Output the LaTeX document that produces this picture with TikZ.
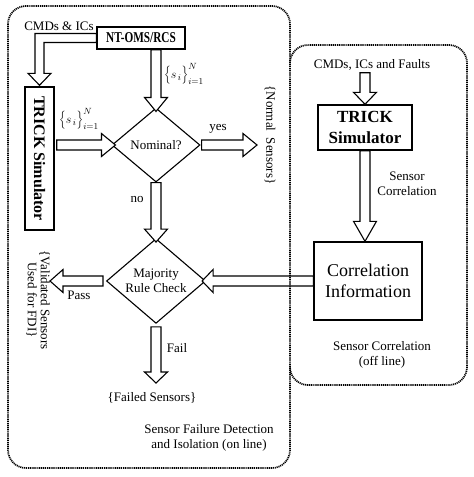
\documentclass[tikz,border=0pt]{standalone}
\usepackage{fontspec}
\setmainfont{Liberation Serif}
\newfontfamily\ntfont{Liberation Serif}[FakeStretch=0.75]
\usetikzlibrary{calc,shapes.geometric}
\def\bsw{5}
\def\bhw{11.5}
% down block arrow: [head length]{start}{tip}
\newcommand\arrD[3][14]{\draw[barr] ($(#2)+(-\bsw,0)$) -- ($(#3)+(-\bsw,-#1)$) -- ($(#3)+(-\bhw,-#1)$) -- (#3) -- ($(#3)+(\bhw,-#1)$) -- ($(#3)+(\bsw,-#1)$) -- ($(#2)+(\bsw,0)$) -- cycle;}
\newcommand\arrR[3][14]{\draw[barr] ($(#2)+(0,-\bsw)$) -- ($(#3)+(-#1,-\bsw)$) -- ($(#3)+(-#1,-\bhw)$) -- (#3) -- ($(#3)+(-#1,\bhw)$) -- ($(#3)+(-#1,\bsw)$) -- ($(#2)+(0,\bsw)$) -- cycle;}
\newcommand\arrL[3][14]{\draw[barr] ($(#2)+(0,-\bsw)$) -- ($(#3)+(#1,-\bsw)$) -- ($(#3)+(#1,-\bhw)$) -- (#3) -- ($(#3)+(#1,\bhw)$) -- ($(#3)+(#1,\bsw)$) -- ($(#2)+(0,\bsw)$) -- cycle;}
\newcommand\sset{$\Bigl\{s_{\,i}\Bigr\}_{i=1}^{N}$}
\begin{document}
\begin{tikzpicture}[x=1pt,y=-1pt,
  barr/.style={draw=black, fill=white, line width=1.1pt, line join=miter},
  box/.style={draw, line width=1.4pt, inner sep=0pt, align=center},
  dia/.style={draw, shape=diamond, line width=1.1pt, inner sep=0pt, align=center,
              font=\fontsize{13}{15}\selectfont},
  dotbox/.style={line width=1.7pt, dash pattern=on 1.1pt off 0.8pt, rounded corners=18pt},
  lab/.style={font=\fontsize{13}{15}\selectfont, inner sep=0pt, align=center}]
\useasboundingbox (0,0) rectangle (474,477);

% ---- nodes ----
\node[box, minimum width=88pt, minimum height=22pt,
      font=\ntfont\bfseries\fontsize{15}{17}\selectfont] (nt) at (141,38) {NT-OMS/RCS};
\node[box, minimum width=29pt, minimum height=143pt] (trickL) at (39.5,158.5) {};
\node[rotate=-90, inner sep=0pt, font=\bfseries\fontsize{16}{18}\selectfont] (trickLtxt) at (trickL) {TRICK Simulator};
\node[dia, minimum width=88pt, minimum height=74pt] (nom) at (156,145) {Nominal?};
\node[dia, minimum width=99pt, minimum height=84pt] (maj) at (156,281) {Majority\\Rule Check};
\node[box, minimum width=94pt, minimum height=45pt,
      font=\bfseries\fontsize{17}{21}\selectfont] (trickR) at (365,127.5) {TRICK\\Simulator};
\node[box, minimum width=108pt, minimum height=78pt,
      font=\fontsize{18}{21}\selectfont] (corr) at (368,281) {Correlation\\Information};

% ---- labels ----
\node[lab] (cmdsL) at (59,26) {CMDs \& ICs};
\node[lab] (s1) at (184,74) {\sset};
\node[lab] (s2) at (79,119) {\sset};
\node[lab] (yes) at (218,129) {yes};
\node[lab, rotate=-90] (normal) at (270,135) {\{Normal\ \ Sensors\}};
\node[lab] (no) at (137,199) {no};
\node[lab] (pass) at (79,295) {Pass};
\node[lab, rotate=-90, font=\fontsize{13}{13}\selectfont] (valid) at (38,300) {\{Validated Sensors\\Used for FDI\}};
\node[lab] (fail) at (177,348) {Fail};
\node[lab] (failed) at (152,398) {\{Failed Sensors\}};
\node[lab] (sfdi) at (209,438) {Sensor Failure Detection\\and Isolation (on line)};
\node[lab] (cmdsR) at (372,65) {CMDs, ICs and Faults};
\node[lab] (sc) at (407,184) {Sensor\\Correlation};
\node[lab] (scoff) at (382,355) {Sensor Correlation\\(off line)};

% ---- helper coordinates ----
\coordinate (lc) at (trickL.north |- nt.west);
\coordinate (a1s) at (nom.north |- nt.south);
\coordinate (a1e) at ($(nom.north)+(0,4)$);
\coordinate (a2s) at ($(trickL.east |- nom.west)+(2,0)$);
\coordinate (a2e) at ($(nom.west)+(4,0)$);
\coordinate (a3s) at ($(nom.east)+(1,0)$);
\coordinate (yesend) at (257,145);
\coordinate (a4e) at ($(maj.north)+(0,4)$);
\coordinate (a5s) at ($(maj.west)+(-3,0)$);
\coordinate (passend) at (50,281);
\coordinate (a6s) at ($(maj.south)+(0,3)$);
\coordinate (failend) at (156,383);
\coordinate (a7s) at (corr.west |- maj.east);
\coordinate (a7e) at ($(maj.east)+(-4,0)$);
\coordinate (a8s) at ($(trickR.north |- cmdsR.south)+(0,2)$);
\coordinate (a9e) at (trickR.south |- corr.north);

% ---- block arrows ----
\draw[barr] ($(nt.west)+(0,-4.5)$) -- ($(lc)+(-4.5,-4.5)$) -- ($(trickL.north)+(-4.5,-13)$)
  -- ($(trickL.north)+(-11.5,-13)$) -- ($(trickL.north)+(0,-1)$) -- ($(trickL.north)+(11.5,-13)$)
  -- ($(trickL.north)+(4.5,-13)$) -- ($(lc)+(4.5,4.5)$) -- ($(nt.west)+(0,4.5)$) -- cycle;
\arrD{a1s}{a1e}
\arrR{a2s}{a2e}
\arrR{a3s}{yesend}
\arrD[13]{nom.south}{a4e}
\arrL[13]{a5s}{passend}
\arrD[11]{a6s}{failend}
\arrL[11]{a7s}{a7e}
\arrD[12]{a8s}{trickR.north}
\arrD[20]{trickR.south}{a9e}

% ---- dotted frames ----
\draw[dotbox] (8,6) rectangle (290,468);
\draw[dotbox] (290,63) -- (290,45) -- (467,45) -- (467,385) -- (290,385) -- (290,367);
\end{tikzpicture}
\end{document}
